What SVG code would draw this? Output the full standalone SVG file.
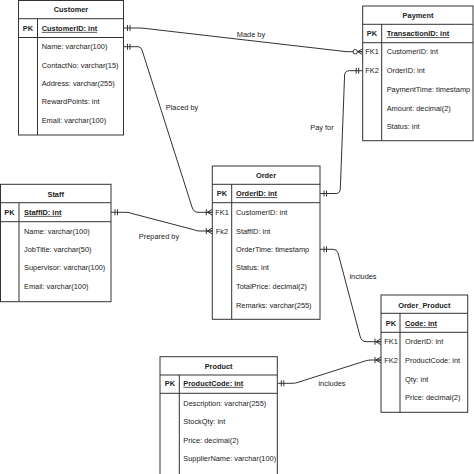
<svg xmlns="http://www.w3.org/2000/svg" width="474" height="474" viewBox="0 0 474 474">
<style>
.box{fill:#fff;stroke:#333;stroke-width:1}
.ln{stroke:#333;stroke-width:1;fill:none}
text{font-family:"Liberation Sans",Arial,sans-serif;font-size:7.4px;fill:#222}
.t{font-weight:bold;text-anchor:middle}
.k{text-anchor:middle}
.kb{text-anchor:middle;font-weight:bold}
.pk{font-weight:bold;text-decoration:underline}
.lbl{text-anchor:middle}
.c{stroke:#333;stroke-width:1;fill:none}
</style>
<defs>
<marker id="one" markerUnits="userSpaceOnUse" markerWidth="14" markerHeight="14" viewBox="-12 -7 14 14" refX="0" refY="0" orient="auto-start-reverse" overflow="visible">
<path d="M-4,-3V3M-6.5,-3V3" stroke="#333" stroke-width="1" fill="none"/>
</marker>
<marker id="many" markerUnits="userSpaceOnUse" markerWidth="14" markerHeight="14" viewBox="-12 -7 14 14" refX="0" refY="0" orient="auto-start-reverse" overflow="visible">
<path d="M-5,0L0,-3M-5,0L0,3M-5,0H0M-6,-3V3" stroke="#333" stroke-width="1" fill="none"/>
</marker>
<marker id="zmany" markerUnits="userSpaceOnUse" markerWidth="16" markerHeight="14" viewBox="-14 -7 16 14" refX="0" refY="0" orient="auto-start-reverse" overflow="visible">
<path d="M-5,0L0,-3M-5,0L0,3M-5,0H0" stroke="#333" stroke-width="1" fill="none"/>
<circle cx="-7.5" cy="0" r="2.2" fill="#fff" stroke="#333" stroke-width="1"/>
</marker>
</defs>
<rect width="474" height="474" fill="#fff"/>

<g id="connectors">
<path class="c" d="M123.5,28H138Q141,28 144,28.3L344,51.4Q346,51.7 348,51.7H362.7" marker-start="url(#one)" marker-end="url(#zmany)"/>
<path class="c" d="M320,193.5H336Q340,193.5 340.3,189L344.6,75Q345,70.7 349.5,70.7H362.7" marker-start="url(#one)" marker-end="url(#one)"/>
<path class="c" d="M123.5,46.7H138Q141,46.7 142,50L192,207Q193.5,212.3 198,212.3H212.3" marker-start="url(#one)" marker-end="url(#many)"/>
<path class="c" d="M111,212.3H126Q129,212.3 132,213.5L193,229.5Q196,231 200,231H212.3" marker-start="url(#one)" marker-end="url(#many)"/>
<path class="c" d="M320,249.3H333Q337,249.3 338,253L360,336Q361.5,341.7 366,341.7H381" marker-start="url(#one)" marker-end="url(#many)"/>
<path class="c" d="M277.3,383.3H292Q296,383.3 299,382L365,361Q368,360 371,360H381" marker-start="url(#one)" marker-end="url(#many)"/>
<text class="lbl" x="251" y="36.6">Made by</text>
<text class="lbl" x="322" y="129.6">Pay for</text>
<text class="lbl" x="182" y="109.6">Placed by</text>
<text class="lbl" x="159" y="238.6">Prepared by</text>
<text class="lbl" x="363" y="278.6">includes</text>
<text class="lbl" x="332" y="385.9">includes</text>
</g>

<g id="customer">
<rect class="box" x="18.5" y="0.5" width="105" height="134.5"/>
<path class="ln" d="M18.5,18.7H123.5M18.5,37.5H123.5M37.5,18.7V135"/>
<text class="t" x="71" y="12.1">Customer</text>
<text class="kb" x="28" y="30.9">PK</text>
<text class="pk" x="41.7" y="30.9">CustomerID: int</text>
<text x="41.7" y="49.3">Name: varchar(100)</text>
<text x="41.7" y="67.6">ContactNo: varchar(15)</text>
<text x="41.7" y="85.9">Address: varchar(255)</text>
<text x="41.7" y="104.3">RewardPoints: int</text>
<text x="41.7" y="122.6">Email: varchar(100)</text>
</g>

<g id="payment">
<rect class="box" x="362.7" y="6" width="110.3" height="134.7"/>
<path class="ln" d="M362.7,24.3H473M362.7,42.7H473M381.7,24.3V140.7"/>
<text class="t" x="418" y="17.6">Payment</text>
<text class="kb" x="372" y="36.3">PK</text>
<text class="pk" x="386.7" y="36.3">TransactionID: int</text>
<text class="k" x="372" y="54.3">FK1</text>
<text x="386.7" y="54.3">CustomerID: int</text>
<text class="k" x="372" y="73.3">FK2</text>
<text x="386.7" y="73.3">OrderID: int</text>
<text x="386.7" y="91.9">PaymentTime: timestamp</text>
<text x="386.7" y="110.9">Amount: decimal(2)</text>
<text x="386.7" y="129.3">Status: int</text>
</g>

<g id="order">
<rect class="box" x="212.3" y="166" width="107.7" height="153.3"/>
<path class="ln" d="M212.3,184.3H320M212.3,202.7H320M231.7,184.3V319.3"/>
<text class="t" x="266" y="178.3">Order</text>
<text class="kb" x="222" y="196.3">PK</text>
<text class="pk" x="236" y="196.3">OrderID: int</text>
<text class="k" x="222" y="214.9">FK1</text>
<text x="236" y="214.9">CustomerID: int</text>
<text class="k" x="222" y="233.6">Fk2</text>
<text x="236" y="233.6">StaffID: int</text>
<text x="236" y="251.9">OrderTime: timestamp</text>
<text x="236" y="270.3">Status: int</text>
<text x="236" y="289.3">TotalPrice: decimal(2)</text>
<text x="236" y="307.9">Remarks: varchar(255)</text>
</g>

<g id="staff">
<rect class="box" x="0.5" y="184.3" width="110.5" height="117.4"/>
<path class="ln" d="M0.5,202.7H111M0.5,221.7H111M19,202.7V301.7"/>
<text class="t" x="55.7" y="196.6">Staff</text>
<text class="kb" x="9.5" y="214.9">PK</text>
<text class="pk" x="24" y="214.9">StaffID: int</text>
<text x="24" y="233.6">Name: varchar(100)</text>
<text x="24" y="251.9">JobTitle: varchar(50)</text>
<text x="24" y="270.3">Supervisor: varchar(100)</text>
<text x="24" y="288.6">Email: varchar(100)</text>
</g>

<g id="order_product">
<rect class="box" x="381" y="295" width="86.7" height="117.3"/>
<path class="ln" d="M381,313.3H467.7M381,332.3H467.7M400,313.3V412.3"/>
<text class="t" x="424.3" y="307.6">Order_Product</text>
<text class="kb" x="391" y="325.9">PK</text>
<text class="pk" x="405" y="325.9">Code: int</text>
<text class="k" x="391" y="344.3">FK1</text>
<text x="405" y="344.3">OrderID: int</text>
<text class="k" x="391" y="362.6">FK2</text>
<text x="405" y="362.6">ProductCode: int</text>
<text x="405" y="381.6">Qty: int</text>
<text x="405" y="399.9">Price: decimal(2)</text>
</g>

<g id="product">
<rect class="box" x="160" y="356.7" width="117.3" height="130"/>
<path class="ln" d="M160,375H277.3M160,393.3H277.3M179.3,375V480"/>
<text class="t" x="218.6" y="368.6">Product</text>
<text class="kb" x="170" y="385.9">PK</text>
<text class="pk" x="183.3" y="385.9">ProductCode: int</text>
<text x="183.3" y="405.9">Description: varchar(255)</text>
<text x="183.3" y="424.3">StockQty: int</text>
<text x="183.3" y="442.6">Price: decimal(2)</text>
<text x="183.3" y="460.9">SupplierName: varchar(100)</text>
</g>
</svg>
